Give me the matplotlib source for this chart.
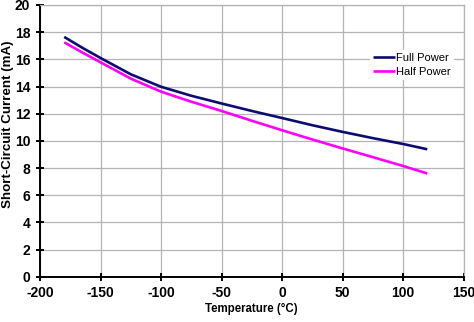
import numpy as np
import matplotlib.pyplot as plt

plt.rcParams['font.family'] = ['Liberation Sans', 'DejaVu Sans']
plt.rcParams['axes.unicode_minus'] = False

temp = [-180, -165, -150, -125, -100, -75, -50, -25, 0, 25, 50, 75, 100, 120]
full_power = [17.65, 16.85, 16.1, 14.9, 13.98, 13.32, 12.75, 12.2, 11.68, 11.15, 10.66, 10.2, 9.77, 9.38]
half_power = [17.25, 16.5, 15.78, 14.58, 13.62, 12.88, 12.2, 11.48, 10.78, 10.1, 9.44, 8.8, 8.15, 7.6]

xticks = np.arange(-200, 151, 50)
yticks = np.arange(0, 21, 2)

fig = plt.figure(figsize=(4.74, 3.22), dpi=100)
ax = fig.add_axes([0.0844, 0.1407, 0.8936, 0.8438])

ax.plot(temp, full_power, color='#0c0c70', lw=1.9, label='Full Power', solid_capstyle='butt')
ax.plot(temp, half_power, color='#ff00ff', lw=1.9, label='Half Power', solid_capstyle='butt')

ax.set_xlim(-200, 150)
ax.set_ylim(0, 20)
ax.set_xticks(xticks, labels=[str(t) for t in xticks], fontweight='bold', fontsize=10)
ax.set_yticks(yticks, labels=[str(t) for t in yticks], fontweight='bold', fontsize=10)
ax.grid(True, color='#b4b4b4', lw=0.9)
ax.set_axisbelow(True)

for s in ['top', 'right']:
    ax.spines[s].set_color('#b4b4b4')
    ax.spines[s].set_linewidth(0.9)
for s in ['left', 'bottom']:
    ax.spines[s].set_color('black')
    ax.spines[s].set_linewidth(1.4)

ax.tick_params(direction='inout', length=6, width=1.4, pad=4)

ax.set_xlabel('Temperature (°C)', fontsize=8.3, fontweight='bold', labelpad=2)
ax.set_ylabel('Short-Circuit Current (mA)', fontsize=9.6, fontweight='bold')
ax.yaxis.set_label_coords(-0.061, 0.56)

leg = ax.legend(loc='upper left', bbox_to_anchor=(0.765, 0.855), frameon=True, fontsize=8,
                handlelength=2.0, handletextpad=0.05, borderpad=0.3, labelspacing=0.35)
leg.get_frame().set_edgecolor('none')
leg.get_frame().set_facecolor('white')
leg.get_frame().set_alpha(1)

fig.savefig('out.png', dpi=100)
